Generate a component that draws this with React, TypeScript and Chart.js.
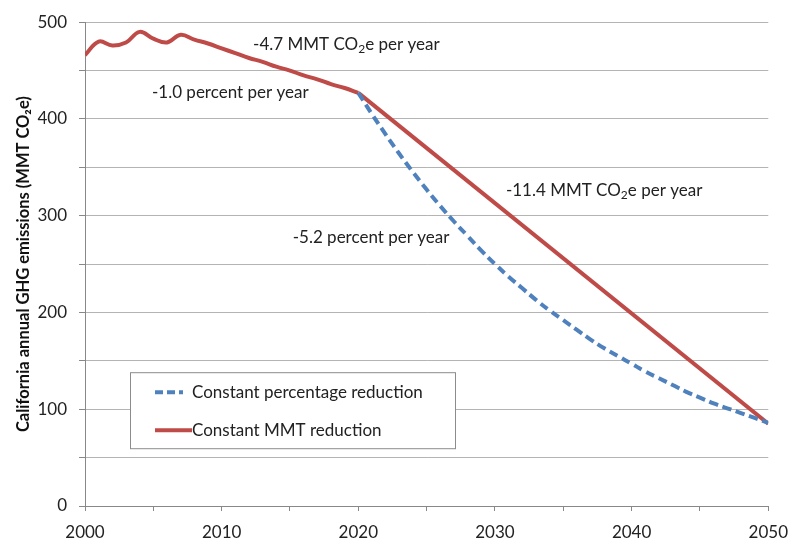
import { useEffect, useRef } from "react";
import { Chart, registerables } from "chart.js";

Chart.register(...registerables);

// historical emissions, MMT CO2e
const historyYears = [2000, 2001, 2002, 2003, 2004, 2005, 2006, 2007, 2008, 2009, 2010, 2011, 2012, 2013, 2014, 2015, 2016, 2017, 2018, 2019, 2020];
const historyValues = [466, 480, 476, 479, 490, 483, 479, 487, 482, 478, 473, 468, 463, 459, 454, 450, 445, 441, 436, 432, 427];

// straight-line (constant MMT) path
const mmtYears = [2020, 2050];
const mmtValues = [427, 85];

// constant percentage path
const pctYears = [2020, 2021, 2022, 2023, 2024, 2025, 2026, 2027, 2028, 2029, 2030, 2031, 2032, 2033, 2034, 2035, 2036, 2037, 2038, 2039, 2040, 2041, 2042, 2043, 2044, 2045, 2046, 2047, 2048, 2049, 2050];
const pctValues = [427, 405, 384, 364, 345, 327, 310, 294, 279, 264, 250, 237, 225, 213, 202, 192, 182, 172, 163, 155, 147, 139, 132, 125, 118, 112, 106, 101, 96, 91, 86];

const xLabelYears = [2000, 2010, 2020, 2030, 2040, 2050];
const yLabelValues = [0, 100, 200, 300, 400, 500];

const seriesNames = ["Constant percentage reduction", "Constant MMT reduction"];
const yTitle = "California annual GHG emissions (MMT CO\u2082e)";

// rate notes: anchored at (year, value) of their left/middle
const notes = [
  { year: 2012.3, value: 477, pre: "-4.7 MMT CO", sub: "2", post: "e per year" },
  { year: 2004.9, value: 427, pre: "-1.0 percent per year", sub: "", post: "" },
  { year: 2030.8, value: 326, pre: "-11.4 MMT CO", sub: "2", post: "e per year" },
  { year: 2015.2, value: 277, pre: "-5.2 percent per year", sub: "", post: "" },
];

const RED = "#BE4B48";
const BLUE = "#4F81BD";
const FONT = "Lato, 'Open Sans', sans-serif";

const notesPlugin = {
  id: "notes",
  afterDatasetsDraw(chart: any) {
    const { ctx, scales } = chart;
    ctx.save();
    ctx.fillStyle = "#222";
    ctx.textBaseline = "middle";
    ctx.textAlign = "left";
    for (const n of notes) {
      let x = scales.x.getPixelForValue(n.year);
      const y = scales.y.getPixelForValue(n.value);
      ctx.font = `17px ${FONT}`;
      ctx.fillText(n.pre, x, y);
      x += ctx.measureText(n.pre).width;
      if (n.sub) {
        ctx.font = `12px ${FONT}`;
        ctx.fillText(n.sub, x, y + 5);
        x += ctx.measureText(n.sub).width;
      }
      if (n.post) {
        ctx.font = `17px ${FONT}`;
        ctx.fillText(n.post, x, y);
      }
    }
    ctx.restore();
  },
};

const boxLegendPlugin = {
  id: "boxLegend",
  afterDraw(chart: any) {
    const { ctx, chartArea } = chart;
    const left = chartArea.left + 45;
    const top = chartArea.top + 350;
    const w = 325;
    const h = 76;
    ctx.save();
    ctx.fillStyle = "#fff";
    ctx.fillRect(left, top, w, h);
    ctx.strokeStyle = "#8c8c8c";
    ctx.lineWidth = 1;
    ctx.strokeRect(left + 0.5, top + 0.5, w, h);

    const rows = [
      { y: top + 20, color: BLUE, dash: [8, 4], end: left + 53 },
      { y: top + 58, color: RED, dash: [], end: left + 62 },
    ];
    rows.forEach((r, i) => {
      ctx.beginPath();
      ctx.setLineDash(r.dash);
      ctx.strokeStyle = r.color;
      ctx.lineWidth = 4;
      ctx.moveTo(left + 25, r.y);
      ctx.lineTo(r.end, r.y);
      ctx.stroke();
      ctx.setLineDash([]);
      ctx.fillStyle = "#222";
      ctx.font = `17px ${FONT}`;
      ctx.textBaseline = "middle";
      ctx.fillText(seriesNames[i], left + 62, r.y);
    });
    ctx.restore();
  },
};

export default function App() {
  const canvasRef = useRef<HTMLCanvasElement | null>(null);
  const chartRef = useRef<Chart | null>(null);

  useEffect(() => {
    if (!canvasRef.current) return;
    chartRef.current?.destroy();

    chartRef.current = new Chart(canvasRef.current, {
      type: "line",
      data: {
        datasets: [
          {
            label: seriesNames[0],
            data: pctYears.map((x, i) => ({ x, y: pctValues[i] })),
            borderColor: BLUE,
            borderWidth: 4,
            borderDash: [9, 5],
            pointRadius: 0,
            tension: 0.4,
          },
          {
            label: seriesNames[1],
            data: mmtYears.map((x, i) => ({ x, y: mmtValues[i] })),
            borderColor: RED,
            borderWidth: 4,
            pointRadius: 0,
            tension: 0,
          },
          {
            label: "history",
            data: historyYears.map((x, i) => ({ x, y: historyValues[i] })),
            borderColor: RED,
            borderWidth: 4,
            pointRadius: 0,
            tension: 0.4,
          },
        ],
      },
      options: {
        animation: false,
        responsive: true,
        maintainAspectRatio: false,
        layout: { padding: { left: 0, top: 22, right: 29, bottom: 0 } },
        plugins: { legend: { display: false }, tooltip: { enabled: false } },
        scales: {
          x: {
            type: "linear",
            min: 2000,
            max: 2050,
            afterFit: (s: any) => {
              s.height = 41;
            },
            afterBuildTicks: (s: any) => {
              s.ticks = [];
              for (let v = 2000; v <= 2050; v += 5) s.ticks.push({ value: v });
            },
            ticks: {
              padding: 11,
              maxRotation: 0,
              autoSkip: false,
              color: "#222",
              font: { family: FONT, size: 17 },
              callback: (v: any) => (xLabelYears.includes(Number(v)) ? String(v) : ""),
            },
            grid: { drawOnChartArea: false, tickLength: 5, tickColor: "#888" },
            border: { color: "#888", width: 1 },
          },
          y: {
            min: 0,
            max: 500,
            afterFit: (s: any) => {
              s.width = 85;
            },
            afterBuildTicks: (s: any) => {
              s.ticks = [];
              for (let v = 0; v <= 500; v += 50) s.ticks.push({ value: v });
            },
            ticks: {
              padding: 12,
              autoSkip: false,
              color: "#222",
              font: { family: FONT, size: 17 },
              callback: (v: any) => (yLabelValues.includes(Number(v)) ? String(v) : ""),
            },
            grid: { color: "#b4b4b4", tickLength: 6, tickColor: "#888", lineWidth: 1 },
            border: { color: "#888", width: 1 },
            title: {
              display: true,
              text: yTitle,
              color: "#111",
              font: { family: FONT, size: 16.5, weight: "bold" },
              padding: { top: 14, bottom: 0 },
            },
          },
        },
      },
      plugins: [notesPlugin, boxLegendPlugin],
    } as any);

    return () => {
      chartRef.current?.destroy();
      chartRef.current = null;
    };
  }, []);

  return (
    <div style={{ position: "fixed", left: 0, top: 0, width: 799, height: 547, background: "#fff" }}>
      <canvas ref={canvasRef}></canvas>
    </div>
  );
}
